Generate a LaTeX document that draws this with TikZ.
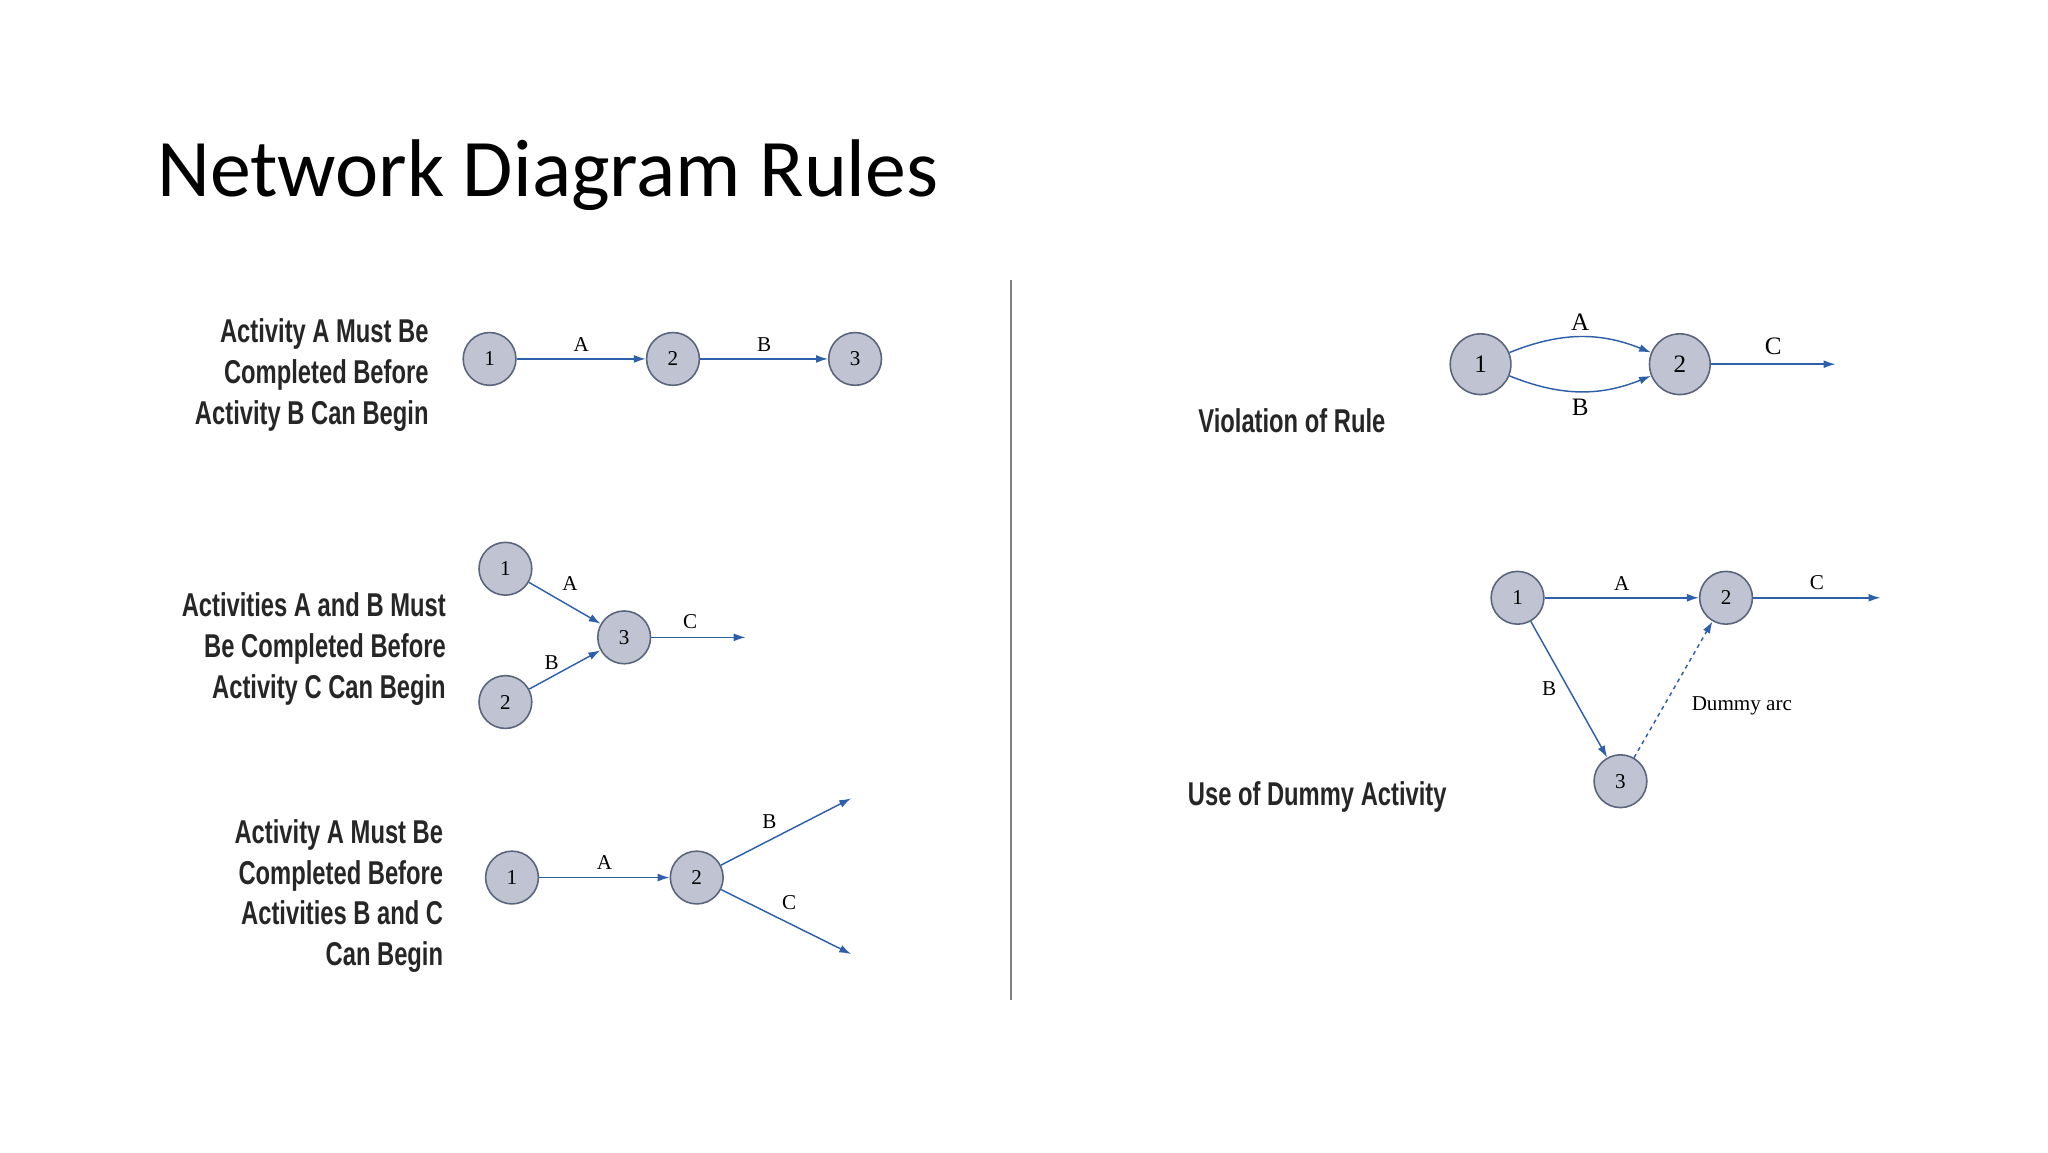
\documentclass[tikz,border=0pt]{standalone}
\usepackage{fontspec}
\setmainfont{Liberation Serif}
\newfontfamily\ttl{Carlito}
\newfontfamily\cond{Liberation Sans}[FakeStretch=0.72]
\usetikzlibrary{arrows.meta}
\definecolor{nfill}{RGB}{192,196,210}
\definecolor{nline}{RGB}{90,100,125}
\definecolor{arr}{RGB}{45,95,170}
\begin{document}
\begin{tikzpicture}[x=1pt,y=-1pt,
  ev/.style={circle,draw=nline,fill=nfill,line width=1.2pt,minimum size=40pt,inner sep=0pt,font=\fontsize{16}{16}\selectfont},
  evb/.style={ev,minimum size=46pt,font=\fontsize{19}{19}\selectfont},
  act/.style={draw=arr,line width=1.1pt,-{Latex[length=9pt,width=6pt]}},
  lab/.style={font=\fontsize{16}{16}\selectfont},
  labb/.style={font=\fontsize{19}{19}\selectfont},
  rule/.style={font=\cond\bfseries\fontsize{25}{31}\selectfont,text=black!85,align=right,inner sep=0pt}]
\useasboundingbox (0,0) rectangle (1552,873);
\node[font=\ttl\fontsize{62}{70}\selectfont,anchor=west,inner sep=0pt] (title) at (119,133) {Network Diagram Rules};
\draw[gray,line width=1.5pt] (766,212) coordinate (v1) -- (766,758) coordinate (v2);
% diagram 1
\node[rule,anchor=east] (t1) at (325,284) {Activity A Must Be\\Completed Before\\Activity B Can Begin};
\node[ev] (a1) at (371,272) {1};
\node[ev] (a2) at (510,272) {2};
\node[ev] (a3) at (648,272) {3};
\draw[act] (a1) -- node[lab,above=2pt] {A} (a2);
\draw[act] (a2) -- node[lab,above=2pt] {B} (a3);
% diagram 2
\node[rule,anchor=east] (t2) at (338,492) {Activities A and B Must\\Be Completed Before\\Activity C Can Begin};
\node[ev] (b1) at (383,431) {1};
\node[ev] (b2) at (383,532) {2};
\node[ev] (b3) at (473,483) {3};
\coordinate (b4) at (565,483);
\draw[act] (b1) -- (b3);
\draw[act] (b2) -- (b3);
\draw[act] (b3) -- (b4);
\node[lab] (la) at (432,442) {A};
\node[lab] (lb) at (418,502) {B};
\node[lab] (lc) at (523,471) {C};
% diagram 3
\node[rule,anchor=east] (t3) at (336,679) {Activity A Must Be\\Completed Before\\Activities B and C\\Can Begin};
\node[ev] (c1) at (388,665) {1};
\node[ev] (c2) at (528,665) {2};
\coordinate (cb) at (645,605);
\coordinate (cc) at (645,723);
\draw[act] (c1) -- node[lab,above=2pt] {A} (c2);
\draw[act] (c2) -- (cb);
\draw[act] (c2) -- (cc);
\node[lab] (lcb) at (583,623) {B};
\node[lab] (lcc) at (598,684) {C};
% violation
\node[rule,anchor=east] (t4) at (1050,319) {Violation of Rule};
\node[evb] (d1) at (1122,276) {1};
\node[evb] (d2) at (1273,276) {2};
\coordinate (d3) at (1391,276);
\draw[act] (d1) to[bend left=22] node[labb,above=1pt] {A} (d2);
\draw[act] (d1) to[bend right=22] node[labb,below=2pt] {B} (d2);
\draw[act] (d2) -- node[labb,above=3pt] {C} (d3);
% dummy
\node[rule,anchor=west] (t5) at (900,604) {Use of Dummy Activity};
\node[ev] (e1) at (1150,453) {1};
\node[ev] (e2) at (1308,453) {2};
\node[ev] (e3) at (1228,592) {3};
\coordinate (e4) at (1425,453);
\draw[act] (e1) -- node[lab,above=2pt] {A} (e2);
\draw[act] (e2) -- node[lab,above=2pt] {C} (e4);
\draw[act] (e1) -- (e3);
\draw[act,dashed] (e3) -- (e2);
\node[lab] (leb) at (1174,522) {B};
\node[lab] (led) at (1320,535) {Dummy arc};
\end{tikzpicture}
\end{document}
